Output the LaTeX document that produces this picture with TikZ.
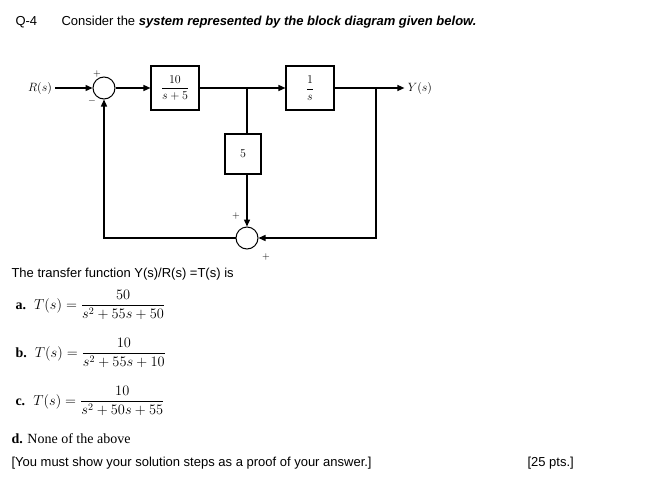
\documentclass[tikz,border=0pt]{standalone}
\usepackage{amsmath}
\usepackage{fontspec}
\setmainfont{Liberation Sans}
\newfontfamily\tms{Liberation Serif}
\usetikzlibrary{positioning,arrows.meta}
\begin{document}
\begin{tikzpicture}[x=1pt,y=-1pt,
  blk/.style={draw, line width=1.1pt, minimum width=48pt, minimum height=44pt, font=\tms\fontsize{12}{14}\selectfont},
  sum/.style={circle, draw, line width=1pt, minimum size=22pt, inner sep=0pt},
  sig/.style={line width=1.4pt, -{Triangle[length=7pt,width=6pt]}},
  wire/.style={line width=1.4pt},
  lbl/.style={font=\tms\fontsize{12}{14}\selectfont},
  txt/.style={anchor=west, font=\fontsize{13}{15}\selectfont},
  ans/.style={anchor=west, font=\tms\fontsize{14}{16}\selectfont}]

\useasboundingbox (0,0) rectangle (651,493);

% header
\node[txt] (q) at (12,22) {Q-4};
\node[txt] (ask) at (58,22) {Consider the \textbf{\textit{system represented by the block diagram given below.}}};

% diagram
\node[lbl] (r) at (40,88) {$R(s)$};
\node[sum] (s1) at (104,88) {};
\node[blk] (g1) at (175,88) {$\dfrac{10}{s+5}$};
\coordinate (b1) at (247,88);
\node[blk] (g2) at (310,88) {$\dfrac{1}{s}$};
\coordinate (b2) at (376,88);
\node[lbl] (y) at (420,88) {$Y(s)$};
\node[blk, minimum width=36pt, minimum height=40pt] (h) at (243,154) {$5$};
\node[sum] (s2) at (247,238) {};

\draw[sig] (r) -- (s1);
\draw[sig] (s1) -- (g1);
\draw[wire] (g1) -- (b1);
\draw[sig] (b1) -- (g2);
\draw[wire] (g2) -- (b2);
\draw[sig] (b2) -- (y);
\draw[wire] (b1) -- (b1 |- h.north);
\draw[sig] (b1 |- h.south) -- (s2);
\draw[sig] (b2) |- (s2);
\draw[sig] (s2) -| (s1);

\node[font=\bfseries] at (97,74) {$+$};
\node[font=\bfseries] at (92,101) {$-$};
\node[font=\bfseries] at (236,216) {$+$};
\node[font=\bfseries] at (266,257) {$+$};

% question
\node[txt] (tf) at (8,274) {The transfer function Y(s)/R(s) =T(s) is};
\node[ans] (a) at (12,305) {\textbf{a.} \ $T(s) = \dfrac{50}{s^2+55s+50}$};
\node[ans] (b) at (12,353) {\textbf{b.} \ $T(s) = \dfrac{10}{s^2+55s+10}$};
\node[ans] (c) at (12,401) {\textbf{c.} \ $T(s) = \dfrac{10}{s^2+50s+55}$};
\node[ans] (d) at (8,439) {\textbf{d.} None of the above};
\node[txt] (note) at (8,463) {[You must show your solution steps as a proof of your answer.]};
\node[txt] (pts) at (524,463) {[25 pts.]};
\end{tikzpicture}
\end{document}
